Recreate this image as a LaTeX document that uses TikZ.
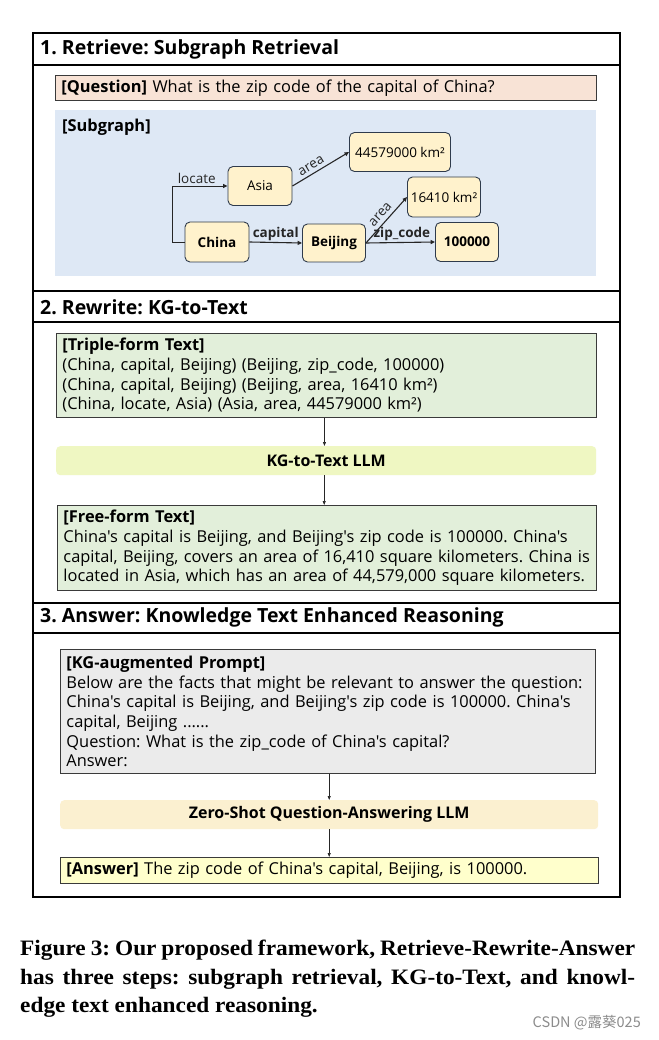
\documentclass[tikz,border=0pt]{standalone}
\usepackage{fontspec}
\setmainfont{Open Sans}[Ligatures=TeXOff]
\newfontfamily\capfont{Liberation Serif}[FakeStretch=1.06]
\newfontfamily\cjkfont{Noto Sans CJK SC}
\usetikzlibrary{arrows.meta}
\definecolor{boxline}{HTML}{3A3A3A}
\definecolor{nodeline}{HTML}{2F3B4C}
\definecolor{qfill}{HTML}{F8E3D6}
\definecolor{sgfill}{HTML}{DEE8F5}
\definecolor{nfill}{HTML}{FFF2CC}
\definecolor{gfill}{HTML}{E2EFDA}
\definecolor{llmA}{HTML}{EFF7C2}
\definecolor{pfill}{HTML}{EBEBEB}
\definecolor{llmB}{HTML}{FBF0D0}
\definecolor{afill}{HTML}{FFFFCC}
\newcommand{\txt}{\fontsize{16.4}{19.7}\selectfont}
\newcommand{\gtxt}{\fontsize{13.5}{15}\selectfont}
\frenchspacing
\begin{document}
\begin{tikzpicture}[x=1pt,y=-1pt,
  hdr/.style={anchor=west, inner sep=0pt, font=\fontsize{19.5}{22}\selectfont\bfseries},
  tbox/.style={draw=boxline, line width=0.9pt, anchor=north west, align=left, inner xsep=6pt, inner ysep=0pt, font=\txt},
  llm/.style={anchor=north west, rounded corners=4pt, inner sep=0pt, font=\fontsize{16}{19}\selectfont\bfseries},
  gnode/.style={draw=nodeline, line width=0.9pt, fill=nfill, rounded corners=5pt, inner sep=0pt, font=\gtxt},
  garr/.style={-{Triangle[length=4.5pt,width=4pt]}, line width=1.1pt, draw=black!85},
  varr/.style={-{Triangle[length=4pt,width=3pt]}, line width=0.7pt, draw=black!85},
  elab/.style={font=\gtxt, inner sep=0.8pt, text=black!85}
]
\useasboundingbox (0,0) rectangle (658,1040);
\fill[white] (0,0) rectangle (658,1040);

% frame and section rules
\draw[line width=1.1pt] (33,33) rectangle (620,897);
\draw[line width=1.1pt] (33,65) -- (620,65);
\draw[line width=1.1pt] (33,291) -- (620,291);
\draw[line width=1.1pt] (33,322) -- (620,322);
\draw[line width=1.1pt] (33,603) -- (620,603);
\draw[line width=1.1pt] (33,633) -- (620,633);

\node[hdr] (h1) at (40,49) {1. Retrieve: Subgraph Retrieval};
\node[hdr] (h2) at (40,307) {2. Rewrite: KG-to-Text};
\node[hdr] (h3) at (40,617) {3. Answer: Knowledge Text Enhanced Reasoning};

% section 1
\node[tbox, fill=qfill, minimum width=541pt, minimum height=25pt, text width=529pt] (q) at (55,75)
  {\textbf{[Question]} What is the zip code of the capital of China?};
\node[anchor=north west, fill=sgfill, minimum width=541pt, minimum height=166pt, inner sep=0pt] (sg) at (55,110) {};
\node[anchor=west, inner sep=0pt, font=\txt\bfseries] (sgl) at (62,127) {[Subgraph]};

\node[gnode, minimum width=64pt, minimum height=39pt] (asia) at (260,186) {Asia};
\node[gnode, minimum width=101pt, minimum height=39pt] (big) at (400,152) {44579000 km²};
\node[gnode, minimum width=73pt, minimum height=40pt] (small) at (444,197) {16410 km²};
\node[gnode, minimum width=64pt, minimum height=40pt, font=\gtxt\bfseries] (china) at (217,242) {China};
\node[gnode, minimum width=63pt, minimum height=38pt, font=\gtxt\bfseries] (beijing) at (334,243) {Beijing};
\node[gnode, minimum width=63pt, minimum height=39pt, font=\gtxt\bfseries] (zip) at (467,242) {100000};

\draw[garr, line width=0.9pt] (china.west) -- ++(-12,0) |- (asia.west)
  node[elab, pos=0.72, above=1pt] {locate};
\draw[garr] (china.east) -- (beijing.west) node[elab, midway, above, font=\gtxt\bfseries] {capital};
\draw[garr] (beijing.east) -- (zip.west) node[elab, pos=0.52, above, font=\gtxt\bfseries] {zip\_code};
\draw[garr] (asia.east) -- (big.west) node[elab, pos=0.4, sloped, above=2.5pt] {area};
\draw[garr] (beijing.east) -- (small.west) node[elab, pos=0.5, sloped, above=3pt] {area};

% section 2
\node[tbox, fill=gfill, minimum width=540pt, minimum height=84pt, text width=528pt] (tri) at (56,333)
  {\textbf{[Triple-form Text]}\\
   (China, capital, Beijing) (Beijing, zip\_code, 100000)\\
   (China, capital, Beijing) (Beijing, area, 16410 km²)\\
   (China, locate, Asia) (Asia, area, 44579000 km²)};
\node[llm, fill=llmA, minimum width=540pt, minimum height=29pt] (kg) at (56,446) {KG-to-Text LLM};
\node[tbox, fill=gfill, minimum width=539pt, minimum height=85pt, text width=527pt] (free) at (57,505)
  {\textbf{[Free-form Text]}\\
   China's capital is Beijing, and Beijing's zip code is 100000. China's\\
   capital, Beijing, covers an area of 16,410 square kilometers. China is\\
   located in Asia, which has an area of 44,579,000 square kilometers.};
\coordinate (a1) at ([xshift=-2pt]tri.south);
\draw[varr] (a1) -- (a1 |- kg.north);
\coordinate (a2) at ([xshift=-2pt]kg.south);
\draw[varr] (a2) -- (a2 |- free.north);

% section 3
\node[tbox, fill=pfill, minimum width=535pt, minimum height=124pt, text width=523pt] (prompt) at (60,649)
  {\textbf{[KG-augmented Prompt]}\\
   Below are the facts that might be relevant to answer the question:\\
   China's capital is Beijing, and Beijing's zip code is 100000. China's\\
   capital, Beijing ......\\
   Question: What is the zip\_code of China's capital?\\
   Answer:};
\node[llm, fill=llmB, minimum width=538pt, minimum height=29pt] (qa) at (60,800) {Zero-Shot Question-Answering LLM};
\node[tbox, fill=afill, minimum width=538pt, minimum height=26pt, text width=526pt] (ans) at (60,857)
  {\textbf{[Answer]} The zip code of China's capital, Beijing, is 100000.};
\draw[varr] (prompt.south -| qa.north) -- (qa.north);
\draw[varr] (qa.south) -- (ans.north -| qa.south);

% caption
\node[anchor=north west, inner sep=0pt, align=left, font=\capfont\bfseries\fontsize{22}{28.5}\selectfont] (cap) at (20,940)
  {\hbox to 615pt{Figure 3: Our proposed framework, Retrieve-Rewrite-Answer}\\
   \hbox to 615pt{has three steps: subgraph retrieval, KG-to-Text, and knowl-}\\
   edge text enhanced reasoning.};
\node[anchor=east, inner sep=0pt, text=black!45, font=\cjkfont\fontsize{14.5}{16}\selectfont] (wm) at (641,1023) {CSDN @露葵025};
\end{tikzpicture}
\end{document}
